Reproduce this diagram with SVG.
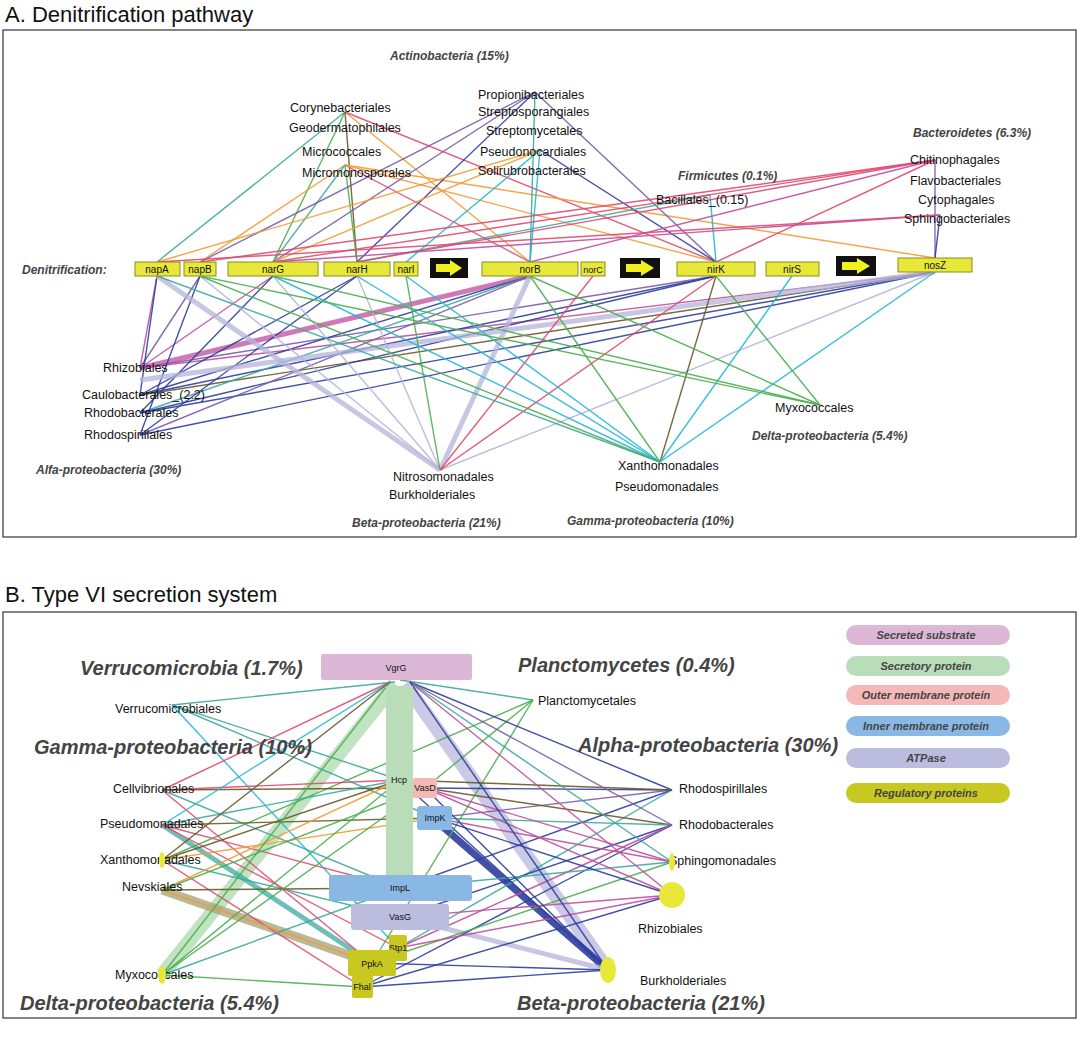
<svg xmlns="http://www.w3.org/2000/svg" width="1080" height="1048" viewBox="0 0 1080 1048">
<style>
text{font-family:"Liberation Sans",Arial,sans-serif;fill:#111}
.t{font-size:12.5px}
.g{font-size:10px}
.bi{font-weight:bold;font-style:italic;fill:#444;font-size:12px}
.big{font-weight:bold;font-style:italic;fill:#444;font-size:20px}
.h{font-size:22px}
.gene{fill:#e8e83a;stroke:#8a8a20;stroke-width:1}
.frame{fill:none;stroke:#333;stroke-width:1.2}
#edges line{stroke-width:1.4;opacity:.9}
.c1{stroke:#3fa9a0}.c2{stroke:#e34a6f}.c3{stroke:#7b5ea7}.c4{stroke:#2e3f9e}.c5{stroke:#f39c34}.c6{stroke:#4caf50}.c7{stroke:#22b8d8}.c8{stroke:#b5b5dc}.c9{stroke:#c04ea0}.c10{stroke:#6b5a2a}
#edges line.w{stroke-width:5;opacity:.75}
#edges line.ww{stroke-width:14;opacity:.7}
.leg{font-size:11px;font-weight:bold;font-style:italic;fill:#444}
.pn{font-size:9px}
</style>
<rect width="1080" height="1048" fill="#fff"/>
<text x="5" y="22" class="h">A. Denitrification pathway</text>
<rect x="3" y="30" width="1073" height="507" class="frame"/>
<text x="5" y="602" class="h">B. Type VI secretion system</text>
<rect x="3" y="612" width="1073" height="406" class="frame"/>

<g id="edges">
<!-- Panel A top -->
<line x1="345" y1="112" x2="157" y2="262" class="c1"/><line x1="345" y1="112" x2="273" y2="262" class="c6"/><line x1="345" y1="112" x2="530" y2="262" class="c5"/><line x1="345" y1="112" x2="716" y2="262" class="c2"/><line x1="345" y1="112" x2="357" y2="262" class="c10"/>
<line x1="345" y1="165" x2="200" y2="262" class="c5"/><line x1="345" y1="165" x2="357" y2="262" class="c6"/><line x1="345" y1="165" x2="935" y2="258" class="c5"/><line x1="345" y1="165" x2="273" y2="262" class="c1"/><line x1="345" y1="165" x2="530" y2="262" class="c2"/><line x1="345" y1="165" x2="716" y2="262" class="c5"/>
<line x1="535" y1="92" x2="273" y2="262" class="c3"/><line x1="535" y1="92" x2="357" y2="262" class="c4"/><line x1="535" y1="92" x2="716" y2="262" class="c3"/><line x1="535" y1="92" x2="530" y2="262" class="c1"/><line x1="535" y1="92" x2="200" y2="262" class="c3"/>
<line x1="540" y1="150" x2="273" y2="262" class="c5"/><line x1="540" y1="150" x2="716" y2="262" class="c4"/><line x1="540" y1="150" x2="530" y2="262" class="c7"/><line x1="540" y1="150" x2="157" y2="262" class="c5"/><line x1="540" y1="150" x2="406" y2="262" class="c7"/>
<line x1="710" y1="195" x2="357" y2="262" class="c1"/><line x1="710" y1="195" x2="716" y2="262" class="c7"/>
<line x1="935" y1="160" x2="273" y2="262" class="c2"/><line x1="935" y1="160" x2="357" y2="262" class="c2"/><line x1="935" y1="160" x2="200" y2="262" class="c2"/><line x1="935" y1="160" x2="530" y2="262" class="c9"/><line x1="935" y1="160" x2="935" y2="258" class="c3"/><line x1="935" y1="160" x2="716" y2="262" class="c2"/>
<line x1="940" y1="215" x2="273" y2="262" class="c9"/><line x1="940" y1="215" x2="157" y2="262" class="c2"/><line x1="940" y1="215" x2="935" y2="258" class="c4"/>
<!-- Panel A bottom -->
<line x1="140" y1="368" x2="157" y2="276" class="c9"/><line x1="140" y1="368" x2="273" y2="276" class="c9"/><line x1="140" y1="368" x2="530" y2="276" class="c9 w"/><line x1="140" y1="368" x2="716" y2="276" class="c3"/><line x1="140" y1="368" x2="935" y2="272" class="c9"/><line x1="140" y1="368" x2="200" y2="276" class="c3"/>
<line x1="140" y1="395" x2="357" y2="276" class="c4"/><line x1="140" y1="395" x2="530" y2="276" class="c4"/><line x1="140" y1="395" x2="716" y2="276" class="c4"/><line x1="140" y1="395" x2="935" y2="272" class="c10"/><line x1="140" y1="395" x2="157" y2="276" class="c4"/>
<line x1="140" y1="413" x2="273" y2="276" class="c4"/><line x1="140" y1="413" x2="530" y2="276" class="c1"/><line x1="140" y1="413" x2="716" y2="276" class="c4"/><line x1="140" y1="413" x2="935" y2="272" class="c4"/>
<line x1="140" y1="435" x2="357" y2="276" class="c4"/><line x1="140" y1="435" x2="530" y2="276" class="c3"/><line x1="140" y1="435" x2="935" y2="272" class="c4"/><line x1="140" y1="435" x2="200" y2="276" class="c4"/>
<line x1="140" y1="380" x2="935" y2="272" class="c8 w"/>
<line x1="440" y1="470" x2="157" y2="276" class="c8 w"/><line x1="440" y1="470" x2="273" y2="276" class="c8"/><line x1="440" y1="470" x2="357" y2="276" class="c8"/><line x1="440" y1="470" x2="530" y2="276" class="c8 w"/><line x1="440" y1="470" x2="935" y2="272" class="c8"/><line x1="440" y1="470" x2="406" y2="276" class="c6"/><line x1="440" y1="470" x2="200" y2="276" class="c8"/><line x1="440" y1="470" x2="716" y2="276" class="c2"/><line x1="440" y1="470" x2="593" y2="276" class="c2"/>
<line x1="660" y1="462" x2="157" y2="276" class="c1"/><line x1="660" y1="462" x2="273" y2="276" class="c7"/><line x1="660" y1="462" x2="357" y2="276" class="c7"/><line x1="660" y1="462" x2="530" y2="276" class="c6"/><line x1="660" y1="462" x2="716" y2="276" class="c10"/><line x1="660" y1="462" x2="792" y2="276" class="c7"/><line x1="660" y1="462" x2="935" y2="272" class="c7"/><line x1="660" y1="462" x2="406" y2="276" class="c7"/><line x1="660" y1="462" x2="200" y2="276" class="c6"/>
<line x1="820" y1="405" x2="200" y2="276" class="c6"/><line x1="820" y1="405" x2="273" y2="276" class="c6"/><line x1="820" y1="405" x2="530" y2="276" class="c6"/><line x1="820" y1="405" x2="716" y2="276" class="c6"/>
<!-- Panel B thick -->
<line x1="395" y1="684" x2="162" y2="975" class="c6 ww" style="stroke:#a8d8a8"/>
<line x1="405" y1="684" x2="608" y2="970" class="c8 ww"/>
<line x1="435" y1="820" x2="608" y2="970" class="c4" style="stroke-width:7"/>
<line x1="162" y1="825" x2="372" y2="963" class="c1 w"/>
<line x1="162" y1="890" x2="372" y2="963" style="stroke:#a8a880;stroke-width:9;opacity:.8"/>
<line x1="400" y1="917" x2="608" y2="970" class="c8 w"/>
<!-- Panel B thin -->
<line x1="172" y1="705" x2="395" y2="682" class="c1"/><line x1="172" y1="705" x2="400" y2="780" class="c1"/><line x1="172" y1="705" x2="398" y2="948" class="c7"/><line x1="172" y1="705" x2="435" y2="818" class="c1"/>
<line x1="533" y1="700" x2="400" y2="680" class="c1"/><line x1="533" y1="700" x2="162" y2="860" class="c6"/><line x1="533" y1="700" x2="372" y2="963" class="c6"/><line x1="533" y1="700" x2="425" y2="788" class="c6"/>
<line x1="162" y1="790" x2="390" y2="682" class="c2"/><line x1="162" y1="790" x2="400" y2="780" class="c2"/><line x1="162" y1="790" x2="372" y2="963" class="c2"/><line x1="162" y1="790" x2="425" y2="788" class="c10"/><line x1="162" y1="790" x2="400" y2="888" class="c1"/>
<line x1="162" y1="825" x2="390" y2="682" class="c7"/><line x1="162" y1="825" x2="400" y2="780" class="c1"/><line x1="162" y1="825" x2="435" y2="818" class="c10"/><line x1="162" y1="825" x2="400" y2="888" class="c2"/><line x1="162" y1="825" x2="398" y2="948" class="c2"/>
<line x1="162" y1="860" x2="390" y2="682" class="c10"/><line x1="162" y1="860" x2="400" y2="780" class="c10"/><line x1="162" y1="860" x2="435" y2="818" class="c5"/><line x1="162" y1="860" x2="400" y2="917" class="c1"/><line x1="162" y1="860" x2="362" y2="987" class="c2"/>
<line x1="162" y1="890" x2="400" y2="780" class="c5"/><line x1="162" y1="890" x2="425" y2="788" class="c6"/><line x1="162" y1="890" x2="400" y2="888" class="c10"/><line x1="162" y1="890" x2="372" y2="963" class="c5"/>
<line x1="162" y1="975" x2="390" y2="682" class="c6"/><line x1="162" y1="975" x2="400" y2="780" class="c6"/><line x1="162" y1="975" x2="362" y2="987" class="c6"/><line x1="162" y1="975" x2="425" y2="788" class="c6"/><line x1="162" y1="975" x2="400" y2="888" class="c1"/>
<line x1="672" y1="790" x2="410" y2="682" class="c4"/><line x1="672" y1="790" x2="425" y2="788" class="c4"/><line x1="672" y1="790" x2="435" y2="818" class="c3"/><line x1="672" y1="790" x2="400" y2="888" class="c4"/><line x1="672" y1="790" x2="372" y2="963" class="c1"/><line x1="672" y1="790" x2="400" y2="780" class="c10"/>
<line x1="672" y1="825" x2="410" y2="682" class="c3"/><line x1="672" y1="825" x2="425" y2="788" class="c10"/><line x1="672" y1="825" x2="435" y2="818" class="c1"/><line x1="672" y1="825" x2="400" y2="917" class="c4"/><line x1="672" y1="825" x2="362" y2="987" class="c4"/><line x1="672" y1="825" x2="398" y2="948" class="c9"/>
<line x1="672" y1="862" x2="410" y2="682" class="c1"/><line x1="672" y1="862" x2="425" y2="788" class="c9"/><line x1="672" y1="862" x2="435" y2="818" class="c9"/><line x1="672" y1="862" x2="400" y2="888" class="c1"/><line x1="672" y1="862" x2="372" y2="963" class="c6"/>
<line x1="672" y1="895" x2="410" y2="682" class="c9"/><line x1="672" y1="895" x2="425" y2="788" class="c9"/><line x1="672" y1="895" x2="400" y2="917" class="c9"/><line x1="672" y1="895" x2="435" y2="818" class="c4"/><line x1="672" y1="895" x2="398" y2="948" class="c9"/><line x1="672" y1="895" x2="362" y2="987" class="c4"/>
<line x1="608" y1="970" x2="410" y2="682" class="c4"/><line x1="608" y1="970" x2="400" y2="780" class="c4"/><line x1="608" y1="970" x2="372" y2="963" class="c4"/><line x1="608" y1="970" x2="362" y2="987" class="c4"/><line x1="608" y1="970" x2="425" y2="788" class="c4"/>
</g>

<g id="genes">
<text x="22" y="274" class="bi">Denitrification:</text>
<g id="napA"><rect x="135" y="262" width="45" height="14" class="gene"/><text x="157" y="273" class="g" text-anchor="middle">napA</text></g>
<g id="napB"><rect x="184" y="262" width="32" height="14" class="gene"/><text x="200" y="273" class="g" text-anchor="middle">napB</text></g>
<g id="narG"><rect x="228" y="262" width="90" height="14" class="gene"/><text x="273" y="273" class="g" text-anchor="middle">narG</text></g>
<g id="narH"><rect x="324" y="262" width="66" height="14" class="gene"/><text x="357" y="273" class="g" text-anchor="middle">narH</text></g>
<g id="narI"><rect x="394" y="262" width="24" height="14" class="gene"/><text x="406" y="273" class="g" text-anchor="middle">narI</text></g>
<g id="norB"><rect x="482" y="262" width="96" height="14" class="gene"/><text x="530" y="273" class="g" text-anchor="middle">norB</text></g>
<g id="norC"><rect x="581" y="262" width="24" height="14" class="gene"/><text x="593" y="273" class="pn" text-anchor="middle">norC</text></g>
<g id="nirK"><rect x="677" y="262" width="78" height="14" class="gene"/><text x="716" y="273" class="g" text-anchor="middle">nirK</text></g>
<g id="nirS"><rect x="766" y="262" width="53" height="14" class="gene"/><text x="792" y="273" class="g" text-anchor="middle">nirS</text></g>
<g id="nosZ"><rect x="898" y="258" width="74" height="14" class="gene"/><text x="935" y="269" class="g" text-anchor="middle">nosZ</text></g>
<g id="arrows">
<rect x="430" y="258" width="38" height="20" fill="#111"/><path d="M436 264h14v-4l12 8-12 8v-4h-14z" fill="#f0f020"/>
<rect x="620" y="258" width="40" height="20" fill="#111"/><path d="M626 264h15v-4l13 8-13 8v-4h-15z" fill="#f0f020"/>
<rect x="836" y="256" width="40" height="20" fill="#111"/><path d="M842 262h15v-4l13 8-13 8v-4h-15z" fill="#f0f020"/>
</g>
</g>

<g id="taxaA">
<text x="390" y="60" class="bi">Actinobacteria (15%)</text>
<text x="290" y="112" class="t">Corynebacteriales</text>
<text x="289" y="132" class="t">Geodermatophilales</text>
<text x="302" y="156" class="t">Micrococcales</text>
<text x="302" y="177" class="t">Micromonosporales</text>
<text x="478" y="99" class="t">Propionibacteriales</text>
<text x="478" y="116" class="t">Streptosporangiales</text>
<text x="486" y="135" class="t">Streptomycetales</text>
<text x="480" y="156" class="t">Pseudonocardiales</text>
<text x="478" y="175" class="t">Solirubrobacterales</text>
<text x="678" y="180" class="bi">Firmicutes (0.1%)</text>
<text x="656" y="204" class="t">Bacillales_(0.15)</text>
<text x="913" y="137" class="bi">Bacteroidetes (6.3%)</text>
<text x="910" y="164" class="t">Chitinophagales</text>
<text x="910" y="185" class="t">Flavobacteriales</text>
<text x="918" y="204" class="t">Cytophagales</text>
<text x="904" y="223" class="t">Sphingobacteriales</text>
<text x="103" y="372" class="t">Rhizobiales</text>
<text x="82" y="399" class="t">Caulobacterales_(2.2)</text>
<text x="84" y="417" class="t">Rhodobacterales</text>
<text x="84" y="439" class="t">Rhodospirillales</text>
<text x="36" y="474" class="bi">Alfa-proteobacteria (30%)</text>
<text x="775" y="412" class="t">Myxococcales</text>
<text x="752" y="440" class="bi">Delta-proteobacteria (5.4%)</text>
<text x="393" y="481" class="t">Nitrosomonadales</text>
<text x="389" y="499" class="t">Burkholderiales</text>
<text x="352" y="527" class="bi">Beta-proteobacteria (21%)</text>
<text x="618" y="470" class="t">Xanthomonadales</text>
<text x="615" y="491" class="t">Pseudomonadales</text>
<text x="567" y="525" class="bi">Gamma-proteobacteria (10%)</text>
</g>

<g id="proteins">
<g id="VgrG"><rect x="321" y="654" width="151" height="26" rx="2" fill="#dcb8d6"/><text x="396" y="671" class="pn" text-anchor="middle">VgrG</text></g>
<g id="Hcp"><rect x="386" y="686" width="27" height="190" fill="#b9dcb9"/><text x="399" y="783" class="pn" text-anchor="middle">Hcp</text></g>
<g id="VasD"><rect x="413" y="778" width="24" height="20" rx="2" fill="#f4b8b8"/><text x="425" y="791" class="pn" text-anchor="middle">VasD</text></g>
<g id="ImpK"><rect x="417" y="806" width="35" height="24" rx="3" fill="#8ab8e4"/><text x="435" y="821" class="pn" text-anchor="middle">ImpK</text></g>
<g id="ImpL"><rect x="329" y="875" width="143" height="26" rx="3" fill="#8ab8e4"/><text x="400" y="891" class="pn" text-anchor="middle">ImpL</text></g>
<g id="VasG"><rect x="351" y="904" width="98" height="26" rx="3" fill="#bcbcdf"/><text x="400" y="920" class="pn" text-anchor="middle">VasG</text></g>
<g id="Stp1"><rect x="389" y="935" width="18" height="26" rx="2" fill="#c8c820"/><text x="398" y="951" class="pn" text-anchor="middle">Stp1</text></g>
<g id="PpkA"><rect x="348" y="950" width="48" height="26" rx="2" fill="#c8c820"/><text x="372" y="967" class="pn" text-anchor="middle">PpkA</text></g>
<g id="Fhal"><rect x="352" y="975" width="21" height="23" rx="2" fill="#c8c820"/><text x="362" y="990" class="pn" text-anchor="middle">Fhal</text></g>
</g>

<g id="taxaB">
<text x="80" y="675" class="big">Verrucomicrobia (1.7%)</text>
<text x="518" y="672" class="big">Planctomycetes (0.4%)</text>
<text x="34" y="754" class="big">Gamma-proteobacteria (10%)</text>
<text x="578" y="752" class="big">Alpha-proteobacteria (30%)</text>
<text x="20" y="1010" class="big">Delta-proteobacteria (5.4%)</text>
<text x="517" y="1010" class="big">Beta-proteobacteria (21%)</text>
<text x="115" y="713" class="t">Verrucomicrobiales</text>
<text x="538" y="705" class="t">Planctomycetales</text>
<text x="113" y="793" class="t">Cellvibrionales</text>
<text x="100" y="828" class="t">Pseudomonadales</text>
<text x="100" y="864" class="t">Xanthomonadales</text>
<text x="122" y="891" class="t">Nevskiales</text>
<text x="115" y="979" class="t">Myxococcales</text>
<text x="679" y="793" class="t">Rhodospirillales</text>
<text x="679" y="829" class="t">Rhodobacterales</text>
<text x="669" y="865" class="t">Sphingomonadales</text>
<text x="638" y="933" class="t">Rhizobiales</text>
<text x="640" y="985" class="t">Burkholderiales</text>
<ellipse cx="162" cy="860" rx="3" ry="8" fill="#e8e83a"/>
<ellipse cx="162" cy="975" rx="4" ry="9" fill="#e8e83a"/>
<ellipse cx="672" cy="862" rx="3" ry="9" fill="#e8e83a"/>
<circle cx="672" cy="895" r="13" fill="#e8e83a"/>
<ellipse cx="608" cy="970" rx="8" ry="13" fill="#e8e83a"/>
</g>

<g id="legend">
<rect x="846" y="625" width="164" height="20" rx="10" fill="#dcb8d6"/><text x="926" y="639" class="leg" text-anchor="middle">Secreted substrate</text>
<rect x="846" y="656" width="164" height="20" rx="10" fill="#b9dcb9"/><text x="926" y="670" class="leg" text-anchor="middle">Secretory protein</text>
<rect x="846" y="685" width="164" height="20" rx="10" fill="#f4b8b8"/><text x="926" y="699" class="leg" text-anchor="middle">Outer membrane protein</text>
<rect x="846" y="716" width="164" height="20" rx="10" fill="#8ab8e4"/><text x="926" y="730" class="leg" text-anchor="middle">Inner membrane protein</text>
<rect x="846" y="748" width="164" height="20" rx="10" fill="#bcbcdf"/><text x="926" y="762" class="leg" text-anchor="middle">ATPase</text>
<rect x="846" y="783" width="164" height="20" rx="10" fill="#c8c820"/><text x="926" y="797" class="leg" text-anchor="middle">Regulatory proteins</text>
</g>
</svg>
